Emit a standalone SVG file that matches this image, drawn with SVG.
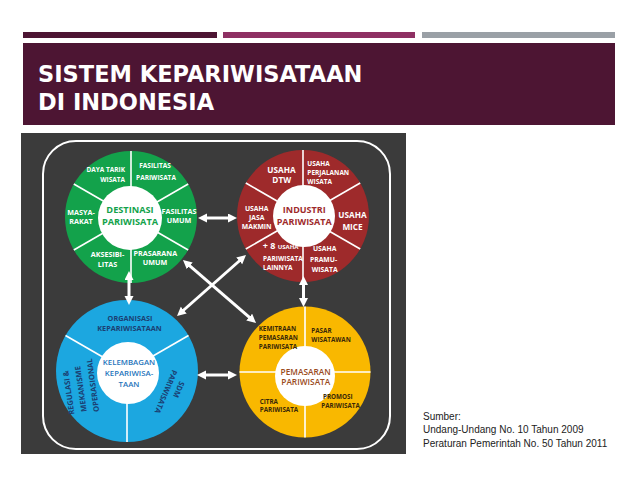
<svg xmlns="http://www.w3.org/2000/svg" width="638" height="478" viewBox="0 0 638 478">
<defs>
<style>
.t{font-family:"Open Sans","Liberation Sans",sans-serif;font-weight:700}
.w{fill:#fff}
.c{text-anchor:middle}
.dv{stroke:#fff;stroke-width:1.6;fill:none}
.ar{stroke:#fff;stroke-width:3;fill:none;marker-start:url(#ah);marker-end:url(#ah)}
.yl{fill:#3a2808}
.bl{fill:#1b3f73}
.ttl{font-family:"DejaVu Sans","Open Sans",sans-serif;font-weight:700;fill:#fff;font-size:22.5px}
</style>
<marker id="ah" markerUnits="userSpaceOnUse" markerWidth="10" markerHeight="10" refX="3" refY="4.5" orient="auto-start-reverse">
<path d="M0,0 L9,4.5 L0,9 z" fill="#fff"/>
</marker>
</defs>
<rect width="638" height="478" fill="#fff"/>
<g id="header">
<rect x="23" y="32" width="194" height="6" fill="#4d1533"/>
<rect x="223" y="32" width="192" height="6" fill="#8e3063"/>
<rect x="422" y="32" width="193" height="6" fill="#9aa0a6"/>
<rect x="23" y="43" width="592" height="82" fill="#4d1533"/>
<text class="ttl" x="38" y="81.5">SISTEM KEPARIWISATAAN</text>
<text class="ttl" x="38" y="110">DI INDONESIA</text>
</g>
<g id="panel">
<rect x="21" y="133" width="385" height="321" fill="#3b3b3b"/>
<rect x="43" y="141" width="347" height="308" rx="33" ry="33" fill="none" stroke="#fff" stroke-width="2"/>
</g>
<g id="node-destinasi">
<circle cx="131" cy="217" r="66" fill="#13a24b"/>
<line class="dv" x1="131" y1="151" x2="131" y2="283"/>
<line class="dv" x1="73.8" y1="184" x2="188.2" y2="250"/>
<line class="dv" x1="73.8" y1="250" x2="188.2" y2="184"/>
<circle cx="130" cy="218" r="32" fill="#fff"/>
<g class="t w" font-size="6.5">
<text x="125" y="171.5" text-anchor="end">DAYA TARIK</text>
<text x="125" y="182" text-anchor="end">WISATA</text>
<text class="c" x="155" y="168.3">FASILITAS</text>
<text class="c" x="156" y="180">PARIWISATA</text>
</g>
<g class="t w c" font-size="7.2">
<text x="179" y="214">FASILITAS</text>
<text x="179" y="223.3">UMUM</text>
<text x="81" y="214.7">MASYA-</text>
<text x="81" y="224">RAKAT</text>
<text x="107.5" y="257.3">AKSESIBI-</text>
<text x="107.5" y="267.3">LITAS</text>
<text x="155.3" y="255.7">PRASARANA</text>
<text x="155" y="265">UMUM</text>
</g>
<g class="t c" font-size="9.2" fill="#13a24b">
<text x="130" y="213.3">DESTINASI</text>
<text x="130" y="225">PARIWISATA</text>
</g>
</g>
<g id="node-industri">
<circle cx="303" cy="216" r="66" fill="#9e2a2b"/>
<line class="dv" x1="303" y1="150" x2="303" y2="282"/>
<line class="dv" x1="245.8" y1="183" x2="360.2" y2="249"/>
<line class="dv" x1="245.8" y1="249" x2="360.2" y2="183"/>
<g class="t w c" font-size="8.2">
<text x="281.5" y="172.7">USAHA</text>
<text x="281.7" y="182.7">DTW</text>
<text x="352.5" y="218.3">USAHA</text>
<text x="352.5" y="230">MICE</text>
</g>
<g class="t w" font-size="6.5">
<text x="307.3" y="165.7">USAHA</text>
<text x="307.3" y="175">PERJALANAN</text>
<text x="307.3" y="184.3">WISATA</text>
<text x="263" y="260.7">PARIWISATA</text>
<text x="263" y="270">LAINNYA</text>
</g>
<text class="t w" x="262.7" y="249" font-size="9">+ 8 <tspan font-size="6">USAHA</tspan></text>
<g class="t w c" font-size="6.8">
<text x="256.7" y="210.7">USAHA</text>
<text x="256.7" y="220">JASA</text>
<text x="256.7" y="229.3">MAKMIN</text>
<text x="324.7" y="250.7">USAHA</text>
<text x="323.5" y="261.7">PRAMU-</text>
<text x="324.7" y="271.7">WISATA</text>
</g>
<circle cx="304" cy="216" r="31" fill="#fff"/>
<g class="t c" font-size="9" fill="#9e2a2b">
<text x="304.3" y="213.3">INDUSTRI</text>
<text x="304.2" y="225">PARIWISATA</text>
</g>
</g>
<g id="node-kelembagan">
<circle cx="127" cy="371" r="71" fill="#1ca7e0"/>
<line class="dv" x1="127" y1="371" x2="127" y2="442"/>
<line class="dv" x1="127" y1="371" x2="65.5" y2="335.5"/>
<line class="dv" x1="127" y1="371" x2="188.5" y2="335.5"/>
<circle cx="128" cy="373" r="31" fill="#fff"/>
<g class="t bl c" font-size="7.3">
<text x="130" y="320.7">ORGANISASI</text>
<text x="129.5" y="330.7">KEPARIWISATAAN</text>
</g>
<g class="t bl c" font-size="7.6" transform="translate(81,389) rotate(-98)">
<text x="-2" y="-10">REGULASI &amp;</text>
<text x="0" y="2.5">MEKANISME</text>
<text x="2" y="15">OPERASIONAL</text>
</g>
<g class="t bl c" font-size="7.6" transform="translate(172,391) rotate(113)">
<text x="-4" y="-3">SDM</text>
<text x="3" y="8">PARIWISATA</text>
</g>
<g class="t c" font-size="7.8" fill="#1e74bb">
<text x="129" y="365" style="font-weight:600">KELEMBAGAN</text>
<text x="129" y="375.7" style="font-weight:600">KEPARIWISA-</text>
<text x="129" y="386.7" style="font-weight:600">TAAN</text>
</g>
</g>
<g id="node-pemasaran">
<circle cx="305" cy="372" r="65.5" fill="#f9b800"/>
<line class="dv" x1="305" y1="306.5" x2="305" y2="437.5"/>
<line class="dv" x1="239.5" y1="372" x2="370.5" y2="372"/>
<circle cx="305" cy="376" r="30" fill="#fff"/>
<g class="t yl" font-size="6.3">
<text x="258.7" y="330.7">KEMITRAAN</text>
<text x="258.7" y="340">PEMASARAN</text>
<text x="258.7" y="349">PARIWISATA</text>
<text x="311.3" y="333.3">PASAR</text>
<text x="311.3" y="342">WISATAWAN</text>
<text x="259.7" y="404">CITRA</text>
<text x="259.7" y="412.3">PARIWISATA</text>
<text x="323" y="399.3">PROMOSI</text>
<text x="321.3" y="408.3">PARIWISATA</text>
</g>
<g class="t c" font-size="8.3" fill="#9a4b1c">
<text x="305.7" y="375" style="font-weight:600">PEMASARAN</text>
<text x="305.8" y="385" style="font-weight:600">PARIWISATA</text>
</g>
</g>
<g id="connectors">
<line class="ar" x1="204" y1="218" x2="231" y2="218"/>
<line class="ar" x1="129" y1="277" x2="129" y2="299"/>
<line class="ar" x1="303.5" y1="282" x2="303.5" y2="301"/>
<line class="ar" x1="203" y1="375" x2="231" y2="375"/>
<line class="ar" x1="187.5" y1="263.9" x2="251.5" y2="319.1"/>
<line class="ar" x1="241.5" y1="259" x2="181.5" y2="312"/>
</g>
<g id="source" font-family="'Liberation Sans',Arial,sans-serif" font-size="10" fill="#222">
<text x="423" y="419.5">Sumber:</text>
<text x="423" y="433">Undang-Undang No. 10  Tahun 2009</text>
<text x="423" y="446.5">Peraturan Pemerintah No. 50 Tahun 2011</text>
</g>
</svg>
